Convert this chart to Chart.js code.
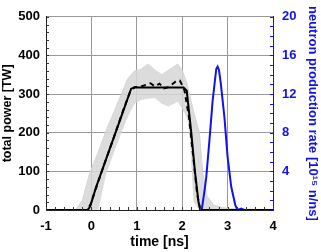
<!DOCTYPE html>
<html><head><meta charset="utf-8">
<script src="https://cdn.jsdelivr.net/npm/chart.js@4/dist/chart.umd.min.js"></script>
<style>html,body{margin:0;padding:0;background:#fff}#wrap{width:321px;height:252px}</style>
</head><body><div id="wrap"><canvas id="c" width="321" height="252"></canvas></div>
<script>
// ---- data ----
const solidTime  = [-1, -0.1, -0.06, -0.02, 0.1, 0.4, 0.7, 0.875, 0.95, 1.5, 2.03, 2.1, 2.2, 2.28, 2.36, 2.4, 4];
const solidPower = [0, 0, 3, 12, 58, 157, 256, 314, 317, 317, 317, 309, 200, 100, 20, 0, 0];

const dashTime  = [-1, -0.1, -0.02, 0.1, 0.3, 0.5, 0.7, 0.85, 0.95, 1.05, 1.15, 1.3, 1.4, 1.5, 1.6, 1.7, 1.85, 1.95, 2.05, 2.15, 2.25, 2.33, 2.4, 4];
const dashPower = [0, 0, 14, 56, 124, 190, 258, 305, 318, 318, 322, 328, 320, 327, 315, 318, 332, 335, 310, 240, 130, 40, 0, 0];

const bandTime  = [-1, -0.35, -0.2, -0.04, 0.15, 0.32, 0.5, 0.66, 0.8, 0.95, 1.1, 1.25, 1.4, 1.55, 1.7, 1.9, 2.0, 2.1, 2.16, 2.25, 2.38, 2.45, 2.55, 2.7, 3.0, 4];
const bandUpper = [0, 0, 25, 95, 150, 205, 255, 300, 340, 360, 365, 378, 362, 350, 362, 378, 362, 330, 300, 255, 200, 100, 35, 12, 4, 0];
const bandLower = [0, 0, 0, 0, 0, 90, 150, 200, 240, 275, 285, 288, 290, 275, 268, 280, 262, 240, 200, 20, 0, 0, 0, 0, 0, 0];

const neutronTime = [2.43, 2.5, 2.53, 2.6, 2.67, 2.75, 2.78, 2.81, 2.85, 2.93, 3.0, 3.08, 3.17, 3.22, 3.3, 3.36, 4];
const neutronRate = [0, 2.3, 3.4, 7.2, 11.3, 14.6, 14.85, 14.5, 13.1, 9.6, 5.5, 2.4, 0.5, 0, 0.15, 0, 0];

const xTicks = [-1, 0, 1, 2, 3, 4];
const yTicks = [0, 100, 200, 300, 400, 500];
const y2Ticks = [0, 4, 8, 12, 16, 20];

const pts = (t, v) => t.map((x, i) => ({x, y: v[i]}));
const FONT = "'Liberation Sans', Arial, sans-serif";
const BLUE = '#1010f0';

const minorTicks = {
  id: 'minorTicks',
  afterDatasetsDraw(chart) {
    const {ctx, chartArea: a, scales} = chart;
    ctx.save();
    ctx.strokeStyle = '#333';
    ctx.lineWidth = 1;
    ctx.beginPath();
    for (let v = -1; v <= 4.001; v += 0.2) {
      const px = Math.round(scales.x.getPixelForValue(v)) + 0.5;
      ctx.moveTo(px, a.bottom); ctx.lineTo(px, a.bottom - 3);
    }
    for (let v = 0; v <= 500; v += 20) {
      const py = Math.round(scales.y.getPixelForValue(v)) + 0.5;
      ctx.moveTo(a.left, py); ctx.lineTo(a.left + 3, py);
    }
    ctx.stroke();
    ctx.strokeStyle = BLUE;
    ctx.beginPath();
    for (let v = 0; v <= 20; v += 1) {
      const py = Math.round(scales.y2.getPixelForValue(v)) + 0.5;
      ctx.moveTo(a.right, py); ctx.lineTo(a.right - 3, py);
    }
    ctx.stroke();
    ctx.restore();
  }
};

new Chart(document.getElementById('c'), {
  type: 'line',
  data: {
    datasets: [
      {data: pts(bandTime, bandLower), borderWidth: 0, pointRadius: 0, borderColor: 'rgba(0,0,0,0)', yAxisID: 'y', order: 5},
      {data: pts(bandTime, bandUpper), borderWidth: 1, borderColor: 'rgba(212,212,212,0.9)', pointRadius: 0,
       fill: '-1', backgroundColor: 'rgba(214,214,214,0.85)', yAxisID: 'y', order: 4},
      {data: pts(neutronTime, neutronRate), borderColor: BLUE, borderWidth: 2, pointRadius: 0, yAxisID: 'y2', order: 3},
      {data: pts(dashTime, dashPower), borderColor: '#000', borderWidth: 2, borderDash: [5, 4], pointRadius: 0, yAxisID: 'y', order: 2},
      {data: pts(solidTime, solidPower), borderColor: '#000', borderWidth: 2, pointRadius: 0, yAxisID: 'y', order: 1}
    ]
  },
  options: {
    responsive: false,
    animation: false,
    events: [],
    layout: {padding: {top: 16, left: 0, right: 0, bottom: 0}},
    plugins: {legend: {display: false}, tooltip: {enabled: false}},
    elements: {line: {tension: 0}},
    scales: {
      x: {
        type: 'linear', min: -1, max: 4,
        afterBuildTicks: s => { s.ticks = xTicks.map(v => ({value: v})); },
        afterFit: s => { s.height = 42; },
        ticks: {color: '#000', font: {family: FONT, size: 13, weight: 'bold'}, padding: 9, maxRotation: 0},
        grid: {color: '#999', drawTicks: false},
        border: {color: '#222', width: 1},
        title: {display: true, text: 'time [ns]', color: '#000', font: {family: FONT, size: 14, weight: 'bold'}, padding: {top: 0, bottom: 1}}
      },
      y: {
        position: 'left', min: 0, max: 500,
        afterBuildTicks: s => { s.ticks = yTicks.map(v => ({value: v})); },
        afterFit: s => { s.width = 46; },
        ticks: {color: '#000', font: {family: FONT, size: 13, weight: 'bold'}, padding: 6},
        grid: {color: '#999', drawTicks: false},
        border: {color: '#222', width: 1},
        title: {display: true, text: 'total power [TW]', color: '#000', font: {family: FONT, size: 12.5, weight: 'bold'}, padding: {top: 0, bottom: 0}}
      },
      y2: {
        position: 'right', min: 0, max: 20,
        afterBuildTicks: s => { s.ticks = y2Ticks.map(v => ({value: v})); },
        afterFit: s => { s.width = 48; },
        ticks: {color: BLUE, font: {family: FONT, size: 13, weight: 'bold'}, padding: 9,
                callback: v => v === 0 ? '' : String(v)},
        grid: {drawOnChartArea: false, drawTicks: false},
        border: {color: BLUE, width: 1},
        title: {display: true, text: 'neutron production rate [10¹⁵ n/ns]', color: BLUE, font: {family: FONT, size: 13, weight: 'bold'}, padding: {top: 1, bottom: 0}}
      }
    }
  },
  plugins: [minorTicks]
});
</script></body></html>
